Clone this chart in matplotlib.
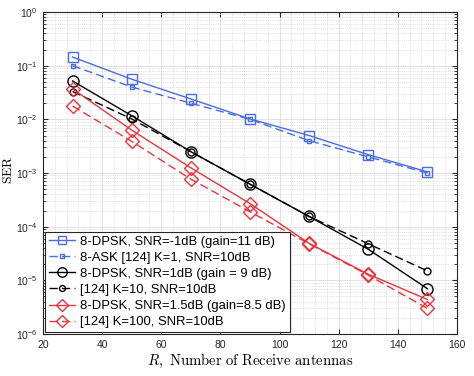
import matplotlib
matplotlib.use("Agg")
import matplotlib.pyplot as plt
from matplotlib.ticker import LogLocator, NullFormatter, MultipleLocator

R = [30, 50, 70, 90, 110, 130, 150]

dpsk_m1 = [0.145, 0.056, 0.024, 0.0102, 0.0050, 0.0022, 0.00105]
ask_k1 = [0.100, 0.040, 0.020, 0.0100, 0.0040, 0.0020, 0.00100]
dpsk_1 = [0.052, 0.0117, 0.0025, 0.00062, 0.000155, 3.8e-5, 7.0e-6]
k10 = [0.033, 0.0102, 0.0025, 0.00062, 0.000155, 4.8e-5, 1.5e-5]
dpsk_15 = [0.037, 0.0063, 0.00125, 0.00027, 4.9e-5, 1.3e-5, 4.4e-6]
k100 = [0.0177, 0.0039, 0.00077, 0.00019, 4.8e-5, 1.25e-5, 3.0e-6]

labels = [
    "8-DPSK, SNR=-1dB (gain=11 dB)",
    "8-ASK [124] K=1, SNR=10dB",
    "8-DPSK, SNR=1dB (gain = 9 dB)",
    "[124] K=10, SNR=10dB",
    "8-DPSK, SNR=1.5dB (gain=8.5 dB)",
    "[124] K=100, SNR=10dB",
]

blue = "#4a6ee0"
red = "#e8353d"
black = "#000000"

plt.rcParams['font.family'] = ['Liberation Sans', 'DejaVu Sans']
plt.rcParams['mathtext.fontset'] = 'cm'

fig = plt.figure(figsize=(4.74, 3.76), dpi=100)
ax = fig.add_axes([0.0907, 0.1117, 0.8733, 0.8563])

lw = 1.0
ax.semilogy(R, dpsk_m1, '-', color=blue, marker='s', ms=6.5, mfc='none', mew=1.0, lw=lw, label=labels[0])
ax.semilogy(R, ask_k1, '--', color=blue, marker='s', ms=3.5, mfc='none', mew=1.0, lw=lw, dashes=(6, 3), label=labels[1])
ax.semilogy(R, dpsk_1, '-', color=black, marker='o', ms=8, mfc='none', mew=1.0, lw=lw, label=labels[2])
ax.semilogy(R, k10, '--', color=black, marker='o', ms=5, mfc='none', mew=1.0, lw=lw, dashes=(6, 3), label=labels[3])
ax.semilogy(R, dpsk_15, '-', color=red, marker='D', ms=7, mfc='none', mew=1.0, lw=lw, label=labels[4])
ax.semilogy(R, k100, '--', color=red, marker='D', ms=7, mfc='none', mew=1.0, lw=lw, dashes=(6, 3), label=labels[5])

ax.set_xlim(20, 160)
ax.set_ylim(1e-6, 1)
ax.xaxis.set_major_locator(MultipleLocator(20))
ax.yaxis.set_major_locator(LogLocator(base=10, numticks=10))
ax.yaxis.set_minor_locator(LogLocator(base=10, subs=range(2, 10), numticks=20))
ax.yaxis.set_minor_formatter(NullFormatter())

ax.grid(True, which='major', color='#dcdcdc', lw=0.6)
ax.grid(True, which='minor', axis='y', color='#c8c8c8', lw=0.5, ls=':')
ax.xaxis.set_minor_locator(MultipleLocator(4))
ax.grid(True, which='minor', axis='x', color='#c8c8c8', lw=0.5, ls=':')
ax.set_axisbelow(True)

ax.tick_params(which='both', direction='in', top=True, right=True, labelsize=7.5, colors='#262626')
ax.tick_params(which='major', length=3.5, pad=4)
ax.tick_params(which='minor', length=2, top=False)
ax.tick_params(which='minor', axis='x', length=0)
for s in ax.spines.values():
    s.set_color('#262626')
    s.set_linewidth(0.8)

ax.set_xlabel(r'$R\mathrm{,\ Number\ of\ Receive\ antennas}$', fontsize=10.6, va='center')
ax.xaxis.set_label_coords(0.5, -0.084)
ax.set_ylabel(r'$\mathrm{SER}$', fontsize=9.8, va='center')
ax.yaxis.set_label_coords(-0.084, 0.512)

leg = ax.legend(loc='lower left', fontsize=9.4, frameon=True, fancybox=False,
                edgecolor='#262626', framealpha=1, borderaxespad=0.15,
                handlelength=2.0, handletextpad=0.4, labelspacing=0.3, borderpad=0.3,
                markerscale=0.85)
leg.get_frame().set_linewidth(0.8)

fig.savefig("out.png", dpi=100)
